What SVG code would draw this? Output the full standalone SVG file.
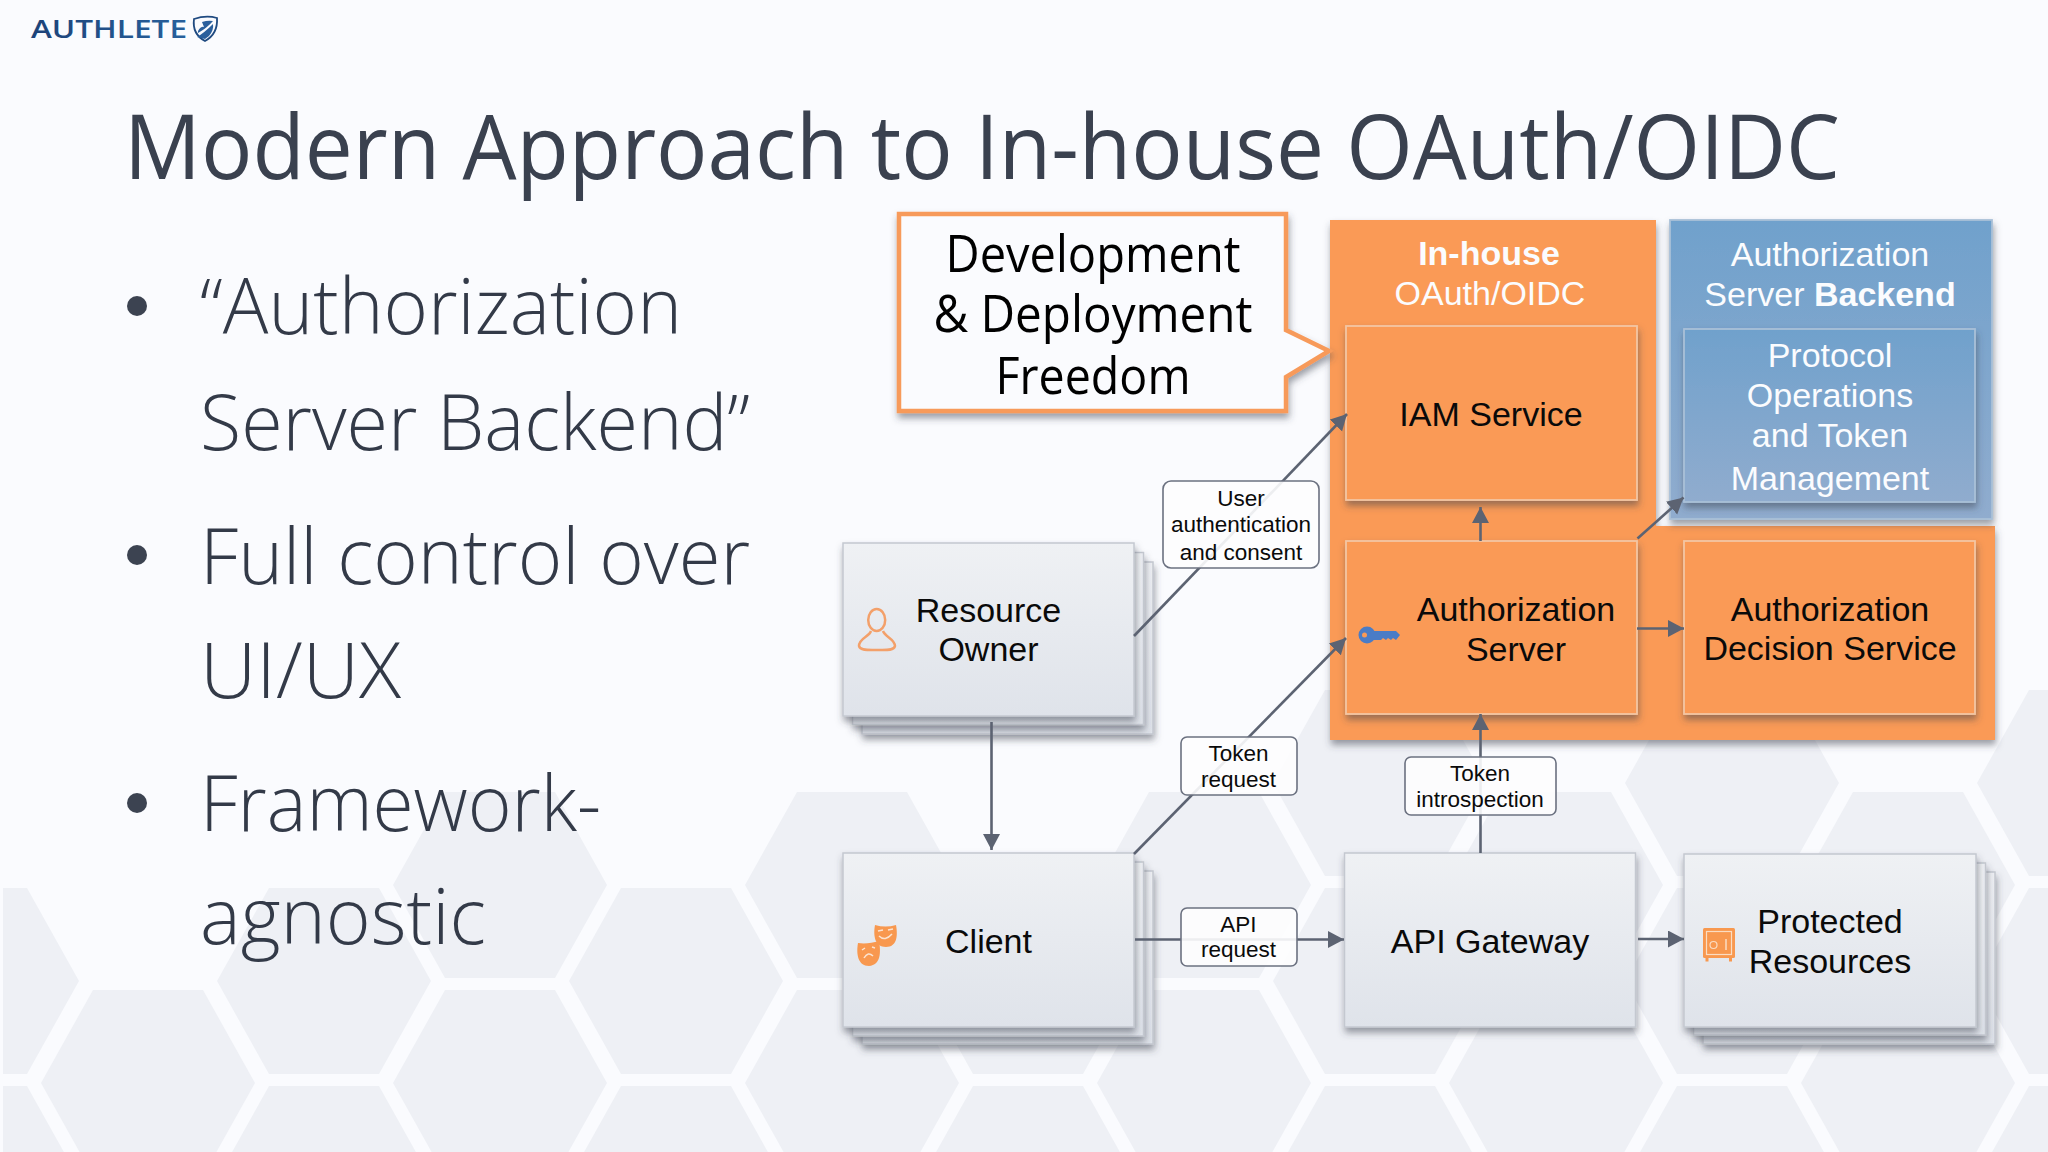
<svg xmlns="http://www.w3.org/2000/svg" width="2048" height="1152" viewBox="0 0 2048 1152">
<style>
.seg{font-family:"Open Sans","Noto Sans","Liberation Sans",sans-serif}
.title{font-size:90px;font-weight:400;fill:#3a414f}
.bul{font-size:78px;font-weight:300;fill:#333a48}
.call{font-size:52px;font-weight:400;fill:#000;text-anchor:middle}
.t{font-family:"Liberation Sans",Arial,sans-serif;font-size:34px;text-anchor:middle;fill:#0a0a0a}
.w{fill:#fbfcfe}
.b{font-weight:700}
.lab{font-family:"Liberation Sans",Arial,sans-serif;font-size:22.5px;text-anchor:middle;fill:#0a0a0a}
.box{fill:#fdfdfe;fill-opacity:.9;stroke:#6b7180;stroke-width:1.6}
.card{fill:url(#gray);stroke:#c4c8d0;stroke-width:1.5;filter:url(#sh)}
.org{fill:#fa9a56;stroke:#f3c6a4;stroke-width:1.8;filter:url(#sh)}
.blu{fill:url(#blue);stroke:#a9c0d8;stroke-width:1.8;filter:url(#sh)}
.cn{fill:none;stroke:#5c6372;stroke-width:2.6}
.arr{marker-end:url(#ah)}
.ic{fill:#f8984f}
</style>
<defs>
<linearGradient id="gray" x1="0" y1="0" x2="0" y2="1"><stop offset="0" stop-color="#eff1f4"/><stop offset="1" stop-color="#dfe3ea"/></linearGradient>
<linearGradient id="blue" x1="0" y1="0" x2="0" y2="1"><stop offset="0" stop-color="#70a1cc"/><stop offset="1" stop-color="#90acce"/></linearGradient>
<linearGradient id="logo" x1="0" y1="0" x2="1" y2="0"><stop offset="0" stop-color="#1d4278"/><stop offset="1" stop-color="#27609c"/></linearGradient>
<filter id="sh" x="-10%" y="-10%" width="125%" height="125%"><feDropShadow dx="1" dy="5" stdDeviation="3.5" flood-color="#3a4150" flood-opacity=".5"/></filter>
<marker id="ah" markerUnits="userSpaceOnUse" markerWidth="18" markerHeight="18" refX="16" refY="8.500" orient="auto"><path d="M0 0L16 8.500L0 17Z" fill="#5c6372"/></marker>
<polygon id="hex" points="-107,0 -55,-93 55,-93 107,0 55,93 -55,93"/>
</defs>
<rect width="2048" height="1152" fill="#fafbfe"/>
<g id="background" fill="#eef0f5">
<use href="#hex" x="-28" y="981"/><use href="#hex" x="-28" y="1179"/><use href="#hex" x="148" y="1083"/>
<use href="#hex" x="324" y="981"/><use href="#hex" x="324" y="1179"/>
<use href="#hex" x="500" y="885"/><use href="#hex" x="500" y="1083"/>
<use href="#hex" x="676" y="981"/><use href="#hex" x="676" y="1179"/>
<use href="#hex" x="852" y="885"/><use href="#hex" x="852" y="1083"/>
<use href="#hex" x="1028" y="981"/><use href="#hex" x="1028" y="1179"/>
<use href="#hex" x="1204" y="885"/><use href="#hex" x="1204" y="1083"/>
<use href="#hex" x="1380" y="783"/><use href="#hex" x="1380" y="981"/><use href="#hex" x="1380" y="1179"/>
<use href="#hex" x="1556" y="885"/><use href="#hex" x="1556" y="1083"/>
<use href="#hex" x="1732" y="783"/><use href="#hex" x="1732" y="981"/><use href="#hex" x="1732" y="1179"/>
<use href="#hex" x="1908" y="885"/><use href="#hex" x="1908" y="1083"/>
<use href="#hex" x="2084" y="783"/><use href="#hex" x="2084" y="981"/><use href="#hex" x="2084" y="1179"/>
<rect x="0" y="860" width="3" height="292" fill="#fafbfe"/>
</g>
<g id="logo-mark">
<text x="31" y="38" class="seg" font-size="25" font-weight="600" fill="url(#logo)" textLength="156" lengthAdjust="spacingAndGlyphs">AUTHLETE</text>
<path d="M194 19Q206 15 217 18Q218 34 205 41Q192 34 194 19Z" fill="#fafbfe" stroke="#1f4a80" stroke-width="1.800"/>
<path d="M197 37Q204 33 213 24Q214 30 209 36L205 39ZM198 31Q201 26 204 27L202 22Q208 20 213 21Q207 28 198 33Z" fill="#2a5f9c"/>
</g>
<g id="slide-text">
<text x="124" y="179" class="seg title" textLength="1716" lengthAdjust="spacingAndGlyphs">Modern Approach to In-house OAuth/OIDC</text>
<circle cx="137" cy="306" r="10" fill="#3c4351"/><circle cx="137" cy="555" r="10" fill="#3c4351"/><circle cx="137" cy="803" r="10" fill="#3c4351"/>
<text x="200" y="334" class="seg bul" textLength="482" lengthAdjust="spacingAndGlyphs">“Authorization</text>
<text x="200" y="450" class="seg bul" textLength="550" lengthAdjust="spacingAndGlyphs">Server Backend”</text>
<text x="200" y="584" class="seg bul" textLength="550" lengthAdjust="spacingAndGlyphs">Full control over</text>
<text x="200" y="698" class="seg bul" textLength="201" lengthAdjust="spacingAndGlyphs">UI/UX</text>
<text x="200" y="831" class="seg bul" textLength="401" lengthAdjust="spacingAndGlyphs">Framework-</text>
<text x="200" y="944" class="seg bul" textLength="286" lengthAdjust="spacingAndGlyphs">agnostic</text>
</g>
<g id="in-house-panel"><path d="M1330 220H1656V526H1995V740H1330Z" fill="#fa9a56" filter="url(#sh)"/>
<text x="1489" y="265" class="t w b">In-house</text><text x="1490" y="305" class="t w">OAuth/OIDC</text></g>
<g id="backend-panel"><rect x="1670" y="220" width="322" height="299" class="blu"/>
<text x="1830" y="266" class="t w">Authorization</text><text x="1830" y="306" class="t w">Server <tspan class="b">Backend</tspan></text></g>
<g id="callout"><path d="M899 214H1286V330L1329 351L1286 377V411H899Z" fill="#fafbfe" stroke="#f79a5a" stroke-width="4.500" filter="url(#sh)"/>
<text x="1093" y="272" class="seg call" textLength="295" lengthAdjust="spacingAndGlyphs">Development</text>
<text x="1093" y="332" class="seg call" textLength="319" lengthAdjust="spacingAndGlyphs">&amp; Deployment</text>
<text x="1093" y="394" class="seg call" textLength="195" lengthAdjust="spacingAndGlyphs">Freedom</text></g>
<g id="iam-service"><rect x="1346" y="326" width="291" height="174" class="org"/><text x="1491" y="426" class="t">IAM Service</text></g>
<g id="protocol-operations"><rect x="1684" y="329" width="291" height="173" class="blu"/>
<text x="1830" y="367" class="t w">Protocol</text><text x="1830" y="407" class="t w">Operations</text><text x="1830" y="447" class="t w">and Token</text><text x="1830" y="490" class="t w">Management</text></g>
<g id="authorization-server"><rect x="1346" y="541" width="291" height="173" class="org"/>
<circle cx="1367" cy="635" r="8.500" fill="#4a7cc6"/><path d="M1372 631H1396L1400 635L1396 640L1393 638L1391 640L1388 638L1386 640L1383 638L1381 640H1372Z" fill="#4a7cc6"/><circle cx="1364.500" cy="635" r="2.500" fill="#fa9a56"/>
<text x="1516" y="621" class="t">Authorization</text><text x="1516" y="661" class="t">Server</text></g>
<g id="decision-service"><rect x="1684" y="541" width="291" height="173" class="org"/>
<text x="1830" y="621" class="t">Authorization</text><text x="1830" y="660" class="t">Decision Service</text></g>
<g id="resource-owner">
<rect x="862" y="562" width="291" height="172" class="card"/><rect x="852.500" y="552.500" width="291" height="172" class="card"/><rect x="843" y="543" width="291" height="173" class="card"/>
<ellipse cx="876.700" cy="620" rx="8.500" ry="11" fill="none" stroke="#f3a06a" stroke-width="2.500"/>
<path d="M871 631C869 637 859 638 859 646C860 651 870 650 877 650C885 650 894 651 895 646C895 639 885 637 883 631" fill="none" stroke="#f3a06a" stroke-width="2.500"/>
<text x="988.500" y="622" class="t">Resource</text><text x="988.500" y="661" class="t">Owner</text></g>
<g id="client">
<rect x="862" y="871" width="291" height="173" class="card"/><rect x="852.500" y="862" width="291" height="174" class="card"/><rect x="843" y="853" width="291" height="174" class="card"/>
<path class="ic" d="M875 925C882 927 889 927 896 925C898 936 897 947 886 947C875 947 873 936 875 925Z"/>
<path class="ic" d="M858 943C865 944 872 943 879 941C881 952 881 965 869 966C858 966 856 954 858 943Z"/>
<path d="M879 936Q885 942 892 934M878 931l5-1M888 930l5-1M864 958Q868 951 873 956M862 950l3-2M872 947l3 1" fill="none" stroke="#fbe3d0" stroke-width="1.500"/>
<text x="988.500" y="953" class="t">Client</text></g>
<g id="api-gateway"><rect x="1344.500" y="853" width="291" height="174" class="card"/><text x="1490" y="953" class="t">API Gateway</text></g>
<g id="protected-resources">
<rect x="1703" y="872" width="292" height="172" class="card"/><rect x="1693.500" y="863" width="292" height="172" class="card"/><rect x="1684" y="854" width="292" height="173" class="card"/>
<rect x="1703" y="928" width="32" height="30" rx="1.500" class="ic"/><rect x="1705.500" y="958" width="3" height="3.500" class="ic"/><rect x="1729" y="958" width="3" height="3.500" class="ic"/>
<rect x="1706.500" y="931.500" width="25" height="23" fill="none" stroke="#fbdcc2" stroke-width="1.200"/><circle cx="1713.500" cy="945" r="3.500" fill="none" stroke="#fbdcc2" stroke-width="1.200"/><path d="M1726 939V950" stroke="#fbdcc2" stroke-width="1.500"/>
<text x="1830" y="933" class="t">Protected</text><text x="1830" y="973" class="t">Resources</text></g>
<g id="connectors">
<path class="cn arr" d="M991.500 722V850"/>
<path class="cn arr" d="M1134 636L1347 414"/>
<path class="cn arr" d="M1134 854L1346 638"/>
<path class="cn arr" d="M1135 939.500H1344"/>
<path class="cn arr" d="M1638 939H1684"/>
<path class="cn arr" d="M1480.500 853V714"/>
<path class="cn arr" d="M1480.500 541V507"/>
<path class="cn arr" d="M1637.500 538.500L1683.500 497.500"/>
<path class="cn arr" d="M1637 628.500H1684"/>
<g id="connector-labels">
<rect x="1163" y="481" width="156" height="87" rx="8" class="box"/>
<text x="1241" y="506" class="lab">User</text><text x="1241" y="532" class="lab">authentication</text><text x="1241" y="560" class="lab">and consent</text>
<rect x="1181" y="737" width="116" height="58" rx="6" class="box"/>
<text x="1238.500" y="761" class="lab">Token</text><text x="1238.500" y="787" class="lab">request</text>
<rect x="1181" y="908" width="116" height="58" rx="6" class="box"/>
<text x="1238.500" y="932" class="lab">API</text><text x="1238.500" y="957" class="lab">request</text>
<rect x="1405" y="757" width="151" height="58" rx="6" class="box"/>
<text x="1480" y="781" class="lab">Token</text><text x="1480" y="807" class="lab">introspection</text>
</g>
</g>
</svg>
